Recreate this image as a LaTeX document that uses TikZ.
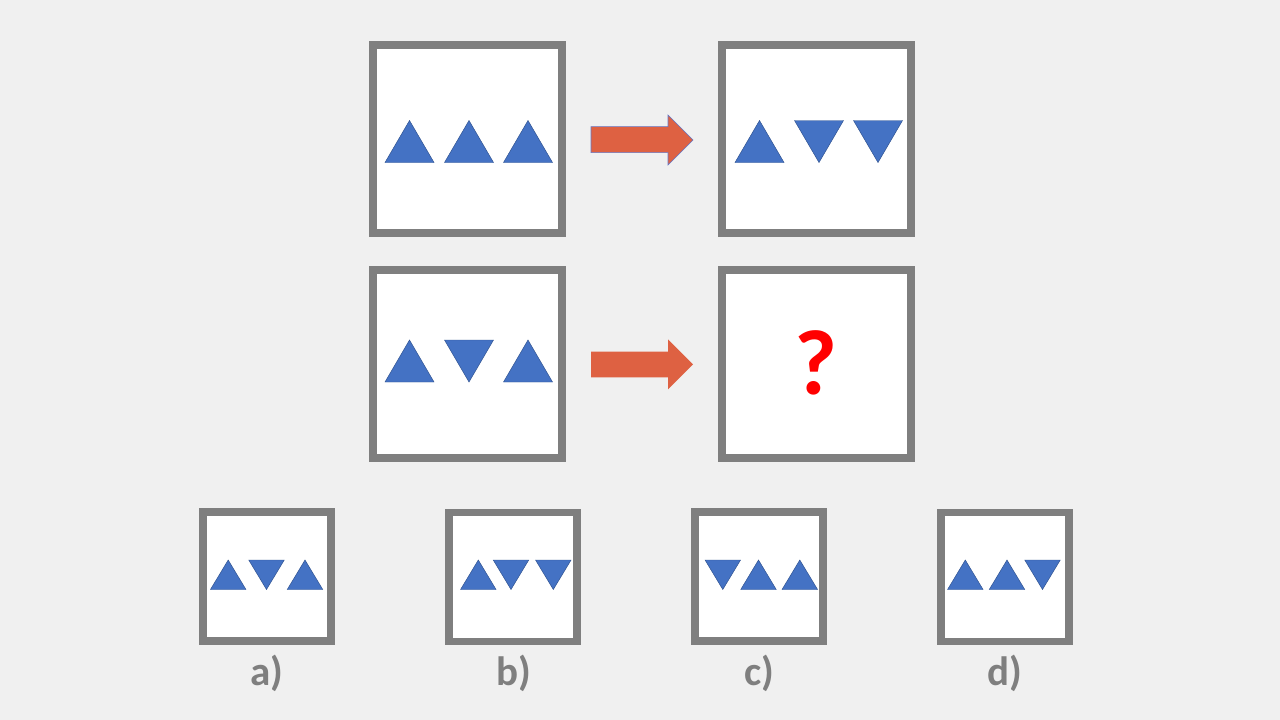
\documentclass[tikz,border=0pt]{standalone}
\usepackage{fontspec}
\setmainfont{Carlito}
\definecolor{bg}{RGB}{240,240,240}
\definecolor{frame}{RGB}{127,127,127}
\definecolor{trifill}{RGB}{68,114,196}
\definecolor{triedge}{RGB}{47,82,143}
\definecolor{arrowfill}{RGB}{222,97,66}
\definecolor{arrowedge}{RGB}{100,120,200}
\definecolor{qred}{RGB}{255,0,0}
\tikzset{
  bigbox/.style={draw=frame, fill=white, line width=6.8pt, minimum width=56.7mm, minimum height=56.5mm, inner sep=0pt},
  smallbox/.style={draw=frame, fill=white, line width=6.8pt, minimum width=38.4mm, minimum height=38.7mm, inner sep=0pt},
  tri/.style={fill=trifill, draw=triedge, line width=0.4pt, line join=miter},
  blockarrow/.style={fill=arrowfill, line width=0.5pt},
  optlabel/.style={text=frame, font=\bfseries\fontsize{35}{40}\selectfont, anchor=base, inner sep=0pt},
}
% \tup{cx}{basey}{w}{h}  \tdn{cx}{topy}{w}{h}   (pixel coords, y downward)
\newcommand\tup[4]{\path[tri] (#1-#3/2,#2) -- (#1+#3/2,#2) -- (#1,#2-#4) -- cycle;}
\newcommand\tdn[4]{\path[tri] (#1-#3/2,#2) -- (#1+#3/2,#2) -- (#1,#2+#4) -- cycle;}
\begin{document}
\begin{tikzpicture}[x=0.3mm,y=-0.3mm]
\fill[bg] (0,0) rectangle (1280,720);
\useasboundingbox (0,0) rectangle (1280,720);

% big boxes
\node[bigbox] (A) at (467.5,139) {};
\node[bigbox] (B) at (816.5,139) {};
\node[bigbox] (C) at (467.5,364) {};
\node[bigbox] (D) at (816.5,364) {};

% top-left triangles
\tup{409.5}{162.5}{49}{42}
\tup{469}{162.5}{49}{42}
\tup{528}{162.5}{49}{42}
% top-right triangles
\tup{759.5}{162.5}{49}{42}
\tdn{819}{120.5}{49}{42}
\tdn{878}{120.5}{49}{42}
% second row left
\tup{409.5}{382}{49}{42}
\tdn{469}{340}{49}{42}
\tup{528}{382}{49}{42}

% question mark
\node[text=qred, font=\bfseries\fontsize{79}{80}\selectfont, anchor=base, inner sep=0pt] (Q) at (816,394) {?};

% block arrows
\path[blockarrow, draw=arrowedge] (591,126.7) -- (668,126.7) -- (668,115) -- (693,140) -- (668,165) -- (668,152.7) -- (591,152.7) -- cycle;
\path[blockarrow] (591,351.7) -- (668,351.7) -- (668,339.3) -- (693,364.3) -- (668,389.3) -- (668,377.3) -- (591,377.3) -- cycle;

% small boxes
\node[smallbox] (a) at (267,576.5) {};
\node[smallbox] (b) at (513,577) {};
\node[smallbox] (c) at (759.3,576.5) {};
\node[smallbox] (d) at (1005.3,577) {};

% a) up down up
\tup{228.2}{589.5}{35.5}{29.5}
\tdn{266.5}{560}{35.5}{29.5}
\tup{305}{589.5}{35.5}{29.5}
% b) up down down
\tup{478.3}{589.5}{35.5}{29.5}
\tdn{511}{560}{35.5}{29.5}
\tdn{553.3}{560}{35.5}{29.5}
% c) down up up
\tdn{722.8}{560}{35.5}{29.5}
\tup{758.5}{589.5}{35.5}{29.5}
\tup{799.8}{589.5}{35.5}{29.5}
% d) up up down
\tup{965.3}{589.5}{35.5}{29.5}
\tup{1007}{589.5}{35.5}{29.5}
\tdn{1042.5}{560}{35.5}{29.5}

% labels
\node[optlabel] (la) at (267,685) {a)};
\node[optlabel] (lb) at (514,685) {b)};
\node[optlabel] (lc) at (759.3,685) {c)};
\node[optlabel] (ld) at (1005.3,685) {d)};
\end{tikzpicture}
\end{document}
